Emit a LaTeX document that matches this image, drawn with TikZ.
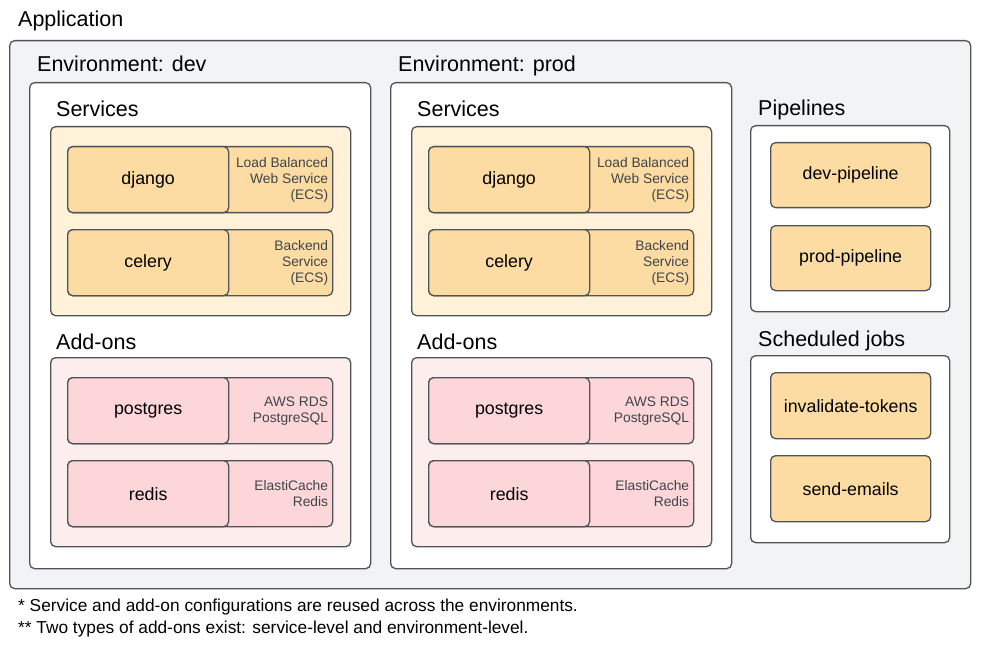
\documentclass[tikz,border=0pt]{standalone}
\usepackage{fontspec}
\setmainfont{Liberation Sans}
\usetikzlibrary{positioning}
\definecolor{appfill}{HTML}{F2F3F5}
\definecolor{svcfill}{HTML}{FFF2D9}
\definecolor{addfill}{HTML}{FDEEEE}
\definecolor{orangebox}{HTML}{FDDCA3}
\definecolor{pinkbox}{HTML}{FCD6D8}
\definecolor{edge}{HTML}{505458}
\definecolor{subtext}{HTML}{404448}
\tikzset{
  box/.style={draw=edge,line width=1.3pt,rounded corners=5pt,inner sep=0pt,anchor=north west},
  title/.style={anchor=base west,inner sep=0pt,font=\fontsize{21.5}{24}\selectfont},
  item/.style={box,minimum height=66pt},
  itemtext/.style={font=\fontsize{17.8}{20}\selectfont},
  kind/.style={anchor=east,align=right,inner sep=0pt,text=subtext,font=\fontsize{13.8}{16}\selectfont},
  note/.style={anchor=base west,inner sep=0pt,font=\fontsize{17.3}{20}\selectfont}
}
\begin{document}
\begin{tikzpicture}[x=1pt,y=-1pt]
  \useasboundingbox (0,0) rectangle (982,647);

  \node [title] (app_lab) at (18,27) {Application};
  \node [box,fill=appfill,minimum width=961pt,minimum height=548pt] (app) at (9,40) {};

  \foreach \env/\dx in {dev/0,prod/361} {
    \node [title] (env_lab_\env) at (37+\dx,72) {Environment: \env};
    \node [box,fill=white,minimum width=341pt,minimum height=486pt] (env_\env) at (29+\dx,82) {};

    % services
    \node [title] (svc_lab_\env) at (56+\dx,117) {Services};
    \node [box,fill=svcfill,minimum width=300pt,minimum height=189pt] (svc_\env) at (50+\dx,126) {};
    \foreach \nm/\y/\txt in {django/146/{Load Balanced\\Web Service\\(ECS)},celery/229/{Backend\\Service\\(ECS)}} {
      \node [item,fill=orangebox,minimum width=265pt] (\nm_\env) at (67+\dx,\y) {};
      \node [item,fill=orangebox,minimum width=161pt,itemtext] (\nm_in_\env) at (67+\dx,\y) {\nm};
      \node [kind] at ([xshift=-5pt]\nm_\env.east) {\txt};
    }

    % add-ons
    \node [title] (add_lab_\env) at (56+\dx,349) {Add-ons};
    \node [box,fill=addfill,minimum width=300pt,minimum height=189pt] (add_\env) at (50+\dx,357) {};
    \foreach \nm/\y/\txt in {postgres/377/{AWS RDS\\PostgreSQL},redis/460/{ElastiCache\\Redis}} {
      \node [item,fill=pinkbox,minimum width=265pt] (\nm_\env) at (67+\dx,\y) {};
      \node [item,fill=pinkbox,minimum width=161pt,itemtext] (\nm_in_\env) at (67+\dx,\y) {\nm};
      \node [kind] at ([xshift=-5pt]\nm_\env.east) {\txt};
    }
  }

  % pipelines and jobs
  \node [title] (pipe_lab) at (758,116) {Pipelines};
  \node [box,fill=white,minimum width=199pt,minimum height=186pt] (pipes) at (750,125) {};
  \node [item,fill=orangebox,minimum width=160pt,minimum height=65pt,itemtext] (dev_pipe) at (770,142) {dev-pipeline};
  \node [item,fill=orangebox,minimum width=160pt,minimum height=65pt,itemtext] (prod_pipe) at (770,225) {prod-pipeline};

  \node [title] (jobs_lab) at (758,346) {Scheduled jobs};
  \node [box,fill=white,minimum width=199pt,minimum height=187pt] (jobs) at (750,355) {};
  \node [item,fill=orangebox,minimum width=160pt,itemtext] (inv_tok) at (770,372) {invalidate-tokens};
  \node [item,fill=orangebox,minimum width=160pt,itemtext] (send_mail) at (770,455) {send-emails};

  \node [note] (note1) at (18,611) {* Service and add-on configurations are reused across the environments.};
  \node [note] (note2) at (18,633) {** Two types of add-ons exist: service-level and environment-level.};
\end{tikzpicture}
\end{document}
